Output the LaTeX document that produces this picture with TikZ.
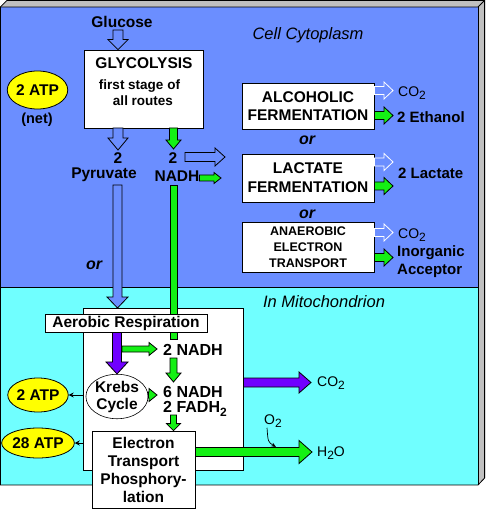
\documentclass[tikz,border=0pt]{standalone}
\usepackage{fontspec}
\setmainfont{Liberation Sans}
\usetikzlibrary{calc,arrows.meta,shapes.geometric}
\definecolor{bgblue}{RGB}{107,142,255}
\definecolor{bgcyan}{RGB}{112,255,255}
\definecolor{agreen}{RGB}{20,240,20}
\definecolor{apurple}{RGB}{112,0,255}
\definecolor{framegray}{RGB}{192,192,192}
\definecolor{atpyellow}{RGB}{255,255,0}
% block arrow: style, from, to, shaft half width, head half width, head length
\newcommand\barrow[6]{%
  \path (#2); \pgfgetlastxy{\bax}{\bay}%
  \path (#3); \pgfgetlastxy{\bbx}{\bby}%
  \pgfmathsetmacro\bang{atan2(\bby-\bay,\bbx-\bax)}%
  \pgfmathsetmacro\blen{veclen(\bbx-\bax,\bby-\bay)}%
  \pgfmathsetmacro\bhs{\blen-#6}%
  \begin{scope}[shift={(\bax,\bay)},rotate=\bang]
    \draw[#1] (0pt,#4pt) -- (\bhs pt,#4pt) -- (\bhs pt,#5pt) -- (\blen pt,0pt)
      -- (\bhs pt,-#5pt) -- (\bhs pt,-#4pt) -- (0pt,-#4pt) -- cycle;
  \end{scope}}
\newcommand\sbs[1]{\raisebox{-0.45ex}{\fontsize{12}{12}\selectfont #1}}
\begin{document}
\begin{tikzpicture}[x=1pt,y=-1pt,
  lab/.style={font=\fontsize{15.5}{18}\selectfont\bfseries, inner sep=0, align=center},
  labs/.style={font=\fontsize{13.5}{15}\selectfont\bfseries, inner sep=0, align=center},
  labr/.style={font=\fontsize{12.5}{16}\selectfont\bfseries, inner sep=0, align=center},
  chem/.style={font=\fontsize{14}{14}\selectfont, inner sep=0, anchor=west},
  ital/.style={font=\fontsize{16.5}{18}\selectfont\itshape, inner sep=0},
  orst/.style={font=\fontsize{16}{18}\selectfont\bfseries\itshape, inner sep=0},
  boxst/.style={draw, fill=white, line width=0.8pt, inner sep=0, align=center},
  atpst/.style={ellipse, draw, fill=atpyellow, line width=0.8pt, inner sep=0,
     font=\fontsize{15.5}{18}\selectfont\bfseries},
  hol/.style={draw=black, fill=bgblue, line width=0.8pt},
  whol/.style={draw=white, fill=bgblue, line width=0.8pt},
  grn/.style={draw=black, fill=agreen, line width=0.8pt},
  prp/.style={draw=black, fill=apurple, line width=0.8pt},
  smallarr/.style={line width=0.8pt, -{Stealth[length=5pt,width=5pt]}}]
\useasboundingbox (0,0) rectangle (485,510);
% frame
\fill[framegray] (0,7) -- (7,0) -- (485,0) -- (485,478) -- (478,485) -- (478,7) -- cycle;
\fill[bgblue] (0,7) rectangle (478,287);
\fill[bgcyan] (0,287) rectangle (478,485);
\draw[line width=0.8pt] (0.4,7) -- (7,0.4) -- (484.6,0.4) -- (484.6,478) -- (478,485) -- (0.4,485) -- cycle;
\draw[line width=0.8pt] (0.4,7) -- (478,7) -- (484.6,0.4);
\draw[line width=0.8pt] (478,7) -- (478,485);
\draw[line width=0.8pt] (0,287) -- (478,287);

\node[ital] (cyto) at (308,35) {Cell Cytoplasm};
\node[ital] (mitot) at (324,302) {In Mitochondrion};

% glycolysis
\node[lab] (glucose) at (122,22) {Glucose};
\node[boxst, minimum width=119, minimum height=78] (glyco) at (143.5,89) {};
\node[lab] (glytitle) at (144,63) {GLYCOLYSIS};
\node[labs] (glyl1) at (139.5,86) {first stage of};
\node[labs] (glyl2) at (143,101) {all routes};
\coordinate (gla) at (118,30);
\barrow{hol}{gla}{glyco.north -| gla}{5}{10}{10}

\node[atpst, minimum width=60, minimum height=38] (atpnet) at (37.5,90) {2 ATP};
\node[labs, font=\fontsize{14.5}{16}\selectfont\bfseries] (net) at (37,120) {(net)};

% products of glycolysis
\node[lab] (two1) at (118,158) {2};
\node[lab] (pyr) at (104,175) {Pyruvate};
\node[lab] (two2) at (173,158) {2};
\node[lab] (nadh) at (177,176) {NADH};
\coordinate (pyra) at (118,128);
\coordinate (pyrb) at (118,150);
\barrow{hol}{pyra}{pyrb}{5}{10}{12}
\coordinate (nda) at (173.5,128);
\coordinate (ndb) at (173.5,149);
\barrow{grn}{nda}{ndb}{4}{7.5}{9}
\coordinate (hra) at (185,157);
\coordinate (hrb) at (225,157);
\barrow{hol}{hra}{hrb}{4.5}{9}{10}
\coordinate (nrb) at (221,178);
\barrow{grn}{nadh.east |- nrb}{nrb}{3}{5.5}{7}

\node[orst] (or1) at (94,265) {or};

% alternative routes
\node[boxst, lab, minimum width=132, minimum height=46] (alc) at (308,106) {ALCOHOLIC\\FERMENTATION};
\node[orst] (or2) at (307,140) {or};
\node[boxst, lab, minimum width=132, minimum height=48, font=\fontsize{15.5}{19}\selectfont\bfseries] (lac) at (308,178) {LACTATE\\FERMENTATION};
\node[orst] (or3) at (307,214) {or};
\node[boxst, labr, minimum width=132, minimum height=50] (ana) at (308,247) {ANAEROBIC\\ELECTRON\\TRANSPORT};

\coordinate (a1) at (393,90.5);
\coordinate (a2) at (393,115.5);
\coordinate (l1) at (393,162);
\coordinate (l2) at (393,186);
\coordinate (n1) at (393,232.5);
\coordinate (n2) at (393,257.5);
\barrow{whol}{alc.east |- a1}{a1}{4}{8.5}{9}
\barrow{grn}{alc.east |- a2}{a2}{4}{8.5}{9}
\barrow{whol}{lac.east |- l1}{l1}{4}{8.5}{9}
\barrow{grn}{lac.east |- l2}{l2}{4}{8.5}{9}
\barrow{whol}{ana.east |- n1}{n1}{4}{8.5}{9}
\barrow{grn}{ana.east |- n2}{n2}{4}{8.5}{9}
\node[chem] (co2a) at (398,93) {CO\sbs{2}};
\node[lab, anchor=west, font=\fontsize{15}{18}\selectfont\bfseries] (eth) at (397,117) {2 Ethanol};
\node[lab, anchor=west, font=\fontsize{15}{18}\selectfont\bfseries] (lact) at (398,173) {2 Lactate};
\node[chem] (co2b) at (398,235) {CO\sbs{2}};
\node[lab, anchor=west, align=left, font=\fontsize{15}{18}\selectfont\bfseries] (inorg) at (397,262) {Inorganic\\Acceptor};

% mitochondrion
\node[boxst, minimum width=160, minimum height=162] (mito) at (163,389) {};
\coordinate (pla) at (117.5,185);
\coordinate (plb) at (117.5,308);
\barrow{hol}{pla}{plb}{4.5}{10.5}{11}
\coordinate (gva) at (173.5,185);
\coordinate (gvb) at (173.5,339);
\draw[grn] ($(gva)+(-3.5,0)$) rectangle ($(gvb)+(3.5,0)$);
\node[boxst, lab, minimum width=162, minimum height=18] (aer) at (126,323) {Aerobic Respiration};

\node[draw, ellipse, fill=white, line width=0.6pt, minimum width=56, minimum height=43, inner sep=0,
  lab, font=\fontsize{15.5}{17}\selectfont\bfseries] (krebs) at (117,396.5) {Krebs\\Cycle};
\barrow{prp}{aer.south -| krebs}{krebs.north}{4.5}{11}{12}
\coordinate (gpa) at (122,349);
\coordinate (gpb) at (157,349);
\barrow{grn}{gpa}{gpb}{3}{6.5}{8}
\node[lab, anchor=west, font=\fontsize{16}{18}\selectfont\bfseries] (nadh2) at (163,350) {2 NADH};
\coordinate (gla2) at (173.5,358);
\coordinate (glb2) at (173.5,382);
\barrow{grn}{gla2}{glb2}{3.5}{7.5}{9}
\node[lab, anchor=west, font=\fontsize{16}{18}\selectfont\bfseries] (nadh6) at (163,392) {6 NADH};
\node[lab, anchor=west, font=\fontsize{16}{18}\selectfont\bfseries] (fadh) at (163,409) {2 FADH\sbs{2}};
\coordinate (kra) at (145,395);
\barrow{grn}{krebs.east |- kra}{157,395}{3}{6.5}{8}

\node[boxst, lab, minimum width=103, minimum height=77] (etp) at (143.5,469.5) {Electron\\Transport\\Phosphory-\\lation};
\coordinate (gda) at (173.5,415);
\barrow{grn}{gda}{etp.north -| gda}{3}{7}{7}

\node[atpst, minimum width=60, minimum height=34] (atp2) at (38,395) {2 ATP};
\node[atpst, minimum width=61, minimum height=30] (atp28) at (38,443) {28 ATP};
\draw[smallarr] (mito.west |- atp2) -- (atp2.east);
\draw[smallarr] (mito.west |- atp28) -- (atp28.east);

\coordinate (pco) at (311,382.5);
\barrow{prp}{mito.east |- pco}{pco}{4.5}{10.5}{12}
\node[chem] (co2c) at (317,383) {CO\sbs{2}};
\coordinate (gho) at (312,452);
\barrow{grn}{etp.east |- gho}{gho}{4.5}{11.5}{13}
\node[chem] (h2o) at (317,453) {H\sbs{2}O};
\node[chem, anchor=center] (o2) at (273,421) {O\sbs{2}};
\coordinate (o2t) at (276,447);
\draw[line width=0.7pt, -{Stealth[length=5pt,width=4pt]}] (o2.south west) ++(3,0) .. controls (268,442) .. (o2t);
\end{tikzpicture}
\end{document}
